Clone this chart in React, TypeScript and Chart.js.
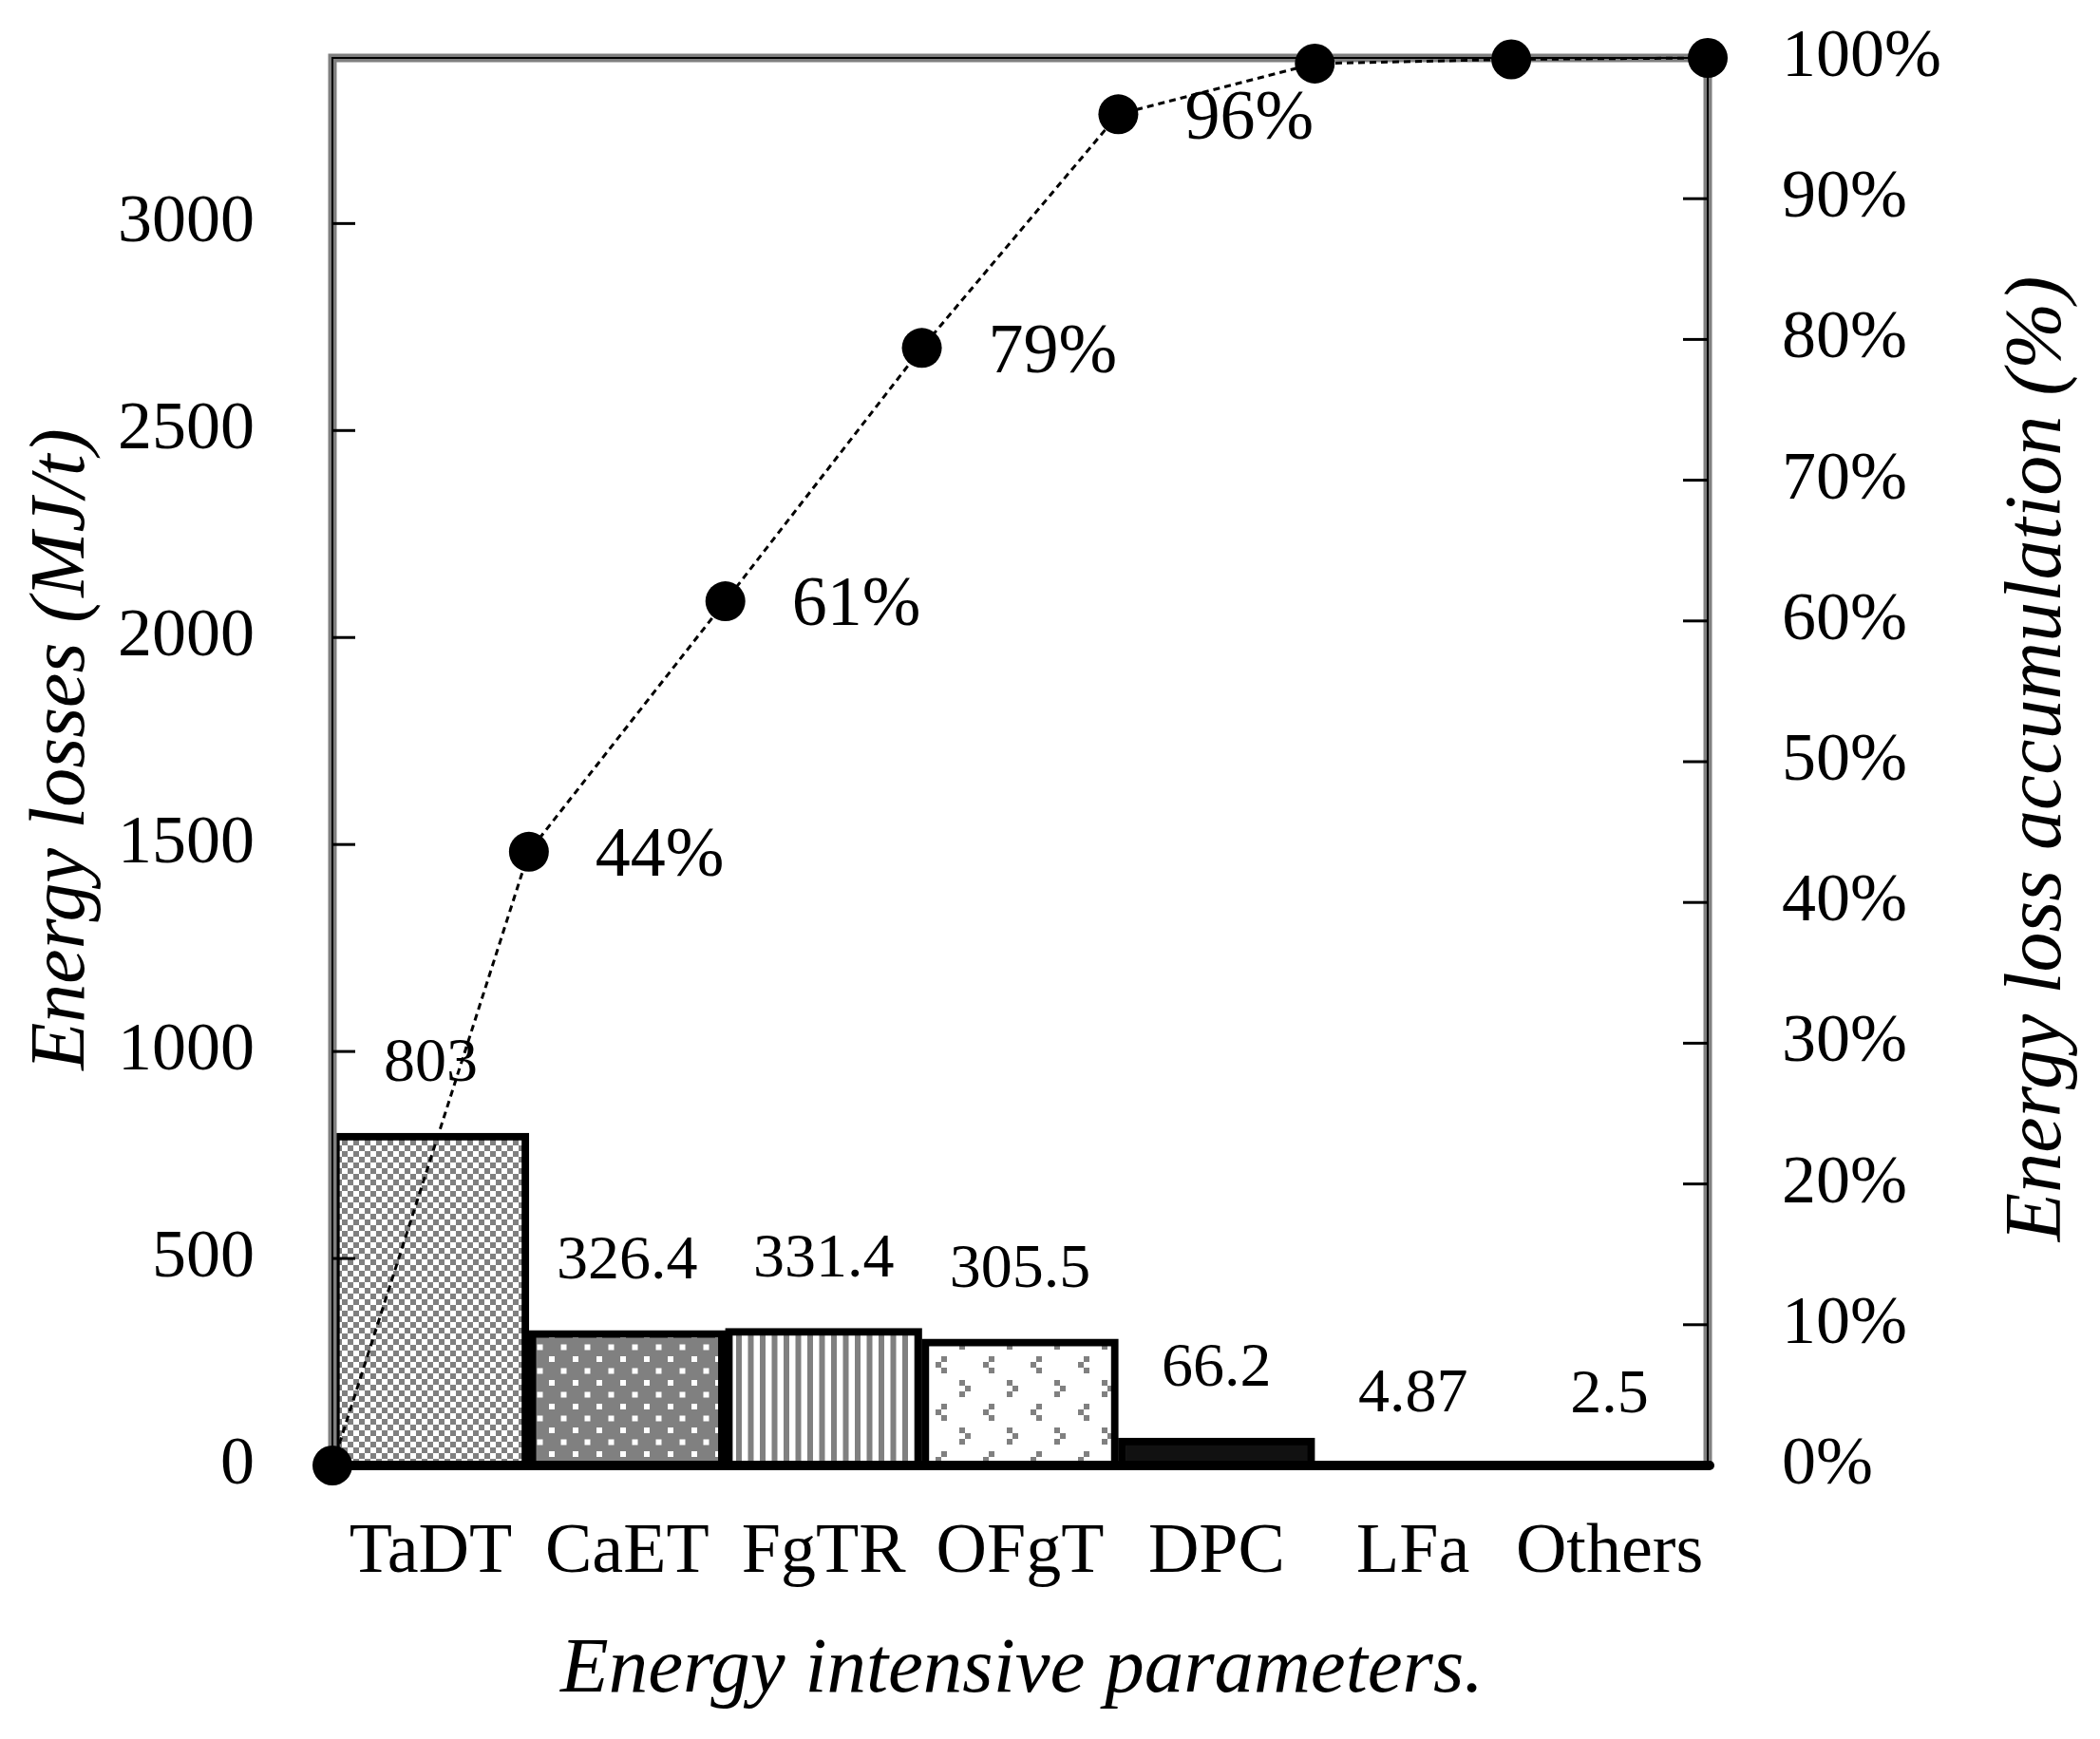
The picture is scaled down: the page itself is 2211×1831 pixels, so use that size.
import React, { useEffect, useRef } from "react";
import { Chart, registerables } from "chart.js";

Chart.register(...registerables);

// ---------- data ----------
const categories = ["TaDT", "CaET", "FgTR", "OFgT", "DPC", "LFa", "Others"];
const energyLosses = [803, 326.4, 331.4, 305.5, 66.2, 4.87, 2.5];
const barValueLabels = ["803", "326.4", "331.4", "305.5", "66.2", "4.87", "2.5"];
const cumulativeBoundaries = [0, 1, 2, 3, 4, 5, 6, 7];
const cumulativePercent = [0, 43.6, 61.4, 79.4, 96.0, 99.6, 99.9, 100];
const cumulativeLabels = ["", "44%", "61%", "79%", "96%", "", "", ""];
const leftTickValues = [0, 500, 1000, 1500, 2000, 2500, 3000];
const rightTickValues = [0, 10, 20, 30, 40, 50, 60, 70, 80, 90, 100];
const leftAxisMax = 3400;
const rightAxisMax = 100;

const xTitle = "Energy intensive parameters.";
const yTitle = "Energy losses (MJ/t)";
const y2Title = "Energy loss accumulation (%)";

// ---------- layout / style ----------
const W = 2211;
const H = 1831;
const PLOT_LEFT = 350;
const PLOT_RIGHT = 1798;
const PLOT_TOP = 61;
const PLOT_BOTTOM = 1543;
const SERIF = '"Liberation Serif", "Times New Roman", Times, serif';
const GRAY = "#808080";

function makeTile(w: number, h: number, draw: (g: CanvasRenderingContext2D) => void) {
  const c = document.createElement("canvas");
  c.width = w;
  c.height = h;
  const g = c.getContext("2d") as CanvasRenderingContext2D;
  draw(g);
  return c;
}

function makeFills(ctx: CanvasRenderingContext2D) {
  const checker = makeTile(12, 12, (g) => {
    g.fillStyle = "#fff";
    g.fillRect(0, 0, 12, 12);
    g.fillStyle = GRAY;
    g.fillRect(0, 0, 6, 6);
    g.fillRect(6, 6, 6, 6);
  });
  const dots = makeTile(25, 25, (g) => {
    g.fillStyle = GRAY;
    g.fillRect(0, 0, 25, 25);
    g.fillStyle = "#fff";
    g.fillRect(3, 3, 6, 6);
    g.fillRect(15.5, 15.5, 6, 6);
  });
  const stripes = makeTile(25, 10, (g) => {
    g.fillStyle = "#fff";
    g.fillRect(0, 0, 25, 10);
    g.fillStyle = GRAY;
    g.fillRect(0, 0, 6, 10);
    g.fillRect(12.5, 0, 6, 10);
  });
  const chevrons = makeTile(50, 50, (g) => {
    g.fillStyle = "#fff";
    g.fillRect(0, 0, 50, 50);
    g.fillStyle = GRAY;
    // ">"
    g.fillRect(10, 3, 6, 6);
    g.fillRect(16, 9, 6, 6);
    g.fillRect(10, 15, 6, 6);
    // "<"
    g.fillRect(41, 28, 6, 6);
    g.fillRect(35, 34, 6, 6);
    g.fillRect(41, 40, 6, 6);
  });
  return [
    ctx.createPattern(checker, "repeat"),
    ctx.createPattern(dots, "repeat"),
    ctx.createPattern(stripes, "repeat"),
    ctx.createPattern(chevrons, "repeat"),
    "#111111",
    "#ffffff",
    "#ffffff",
  ];
}

const paretoPlugin = {
  id: "paretoDecor",
  afterDatasetDraw(chart: any, args: any) {
    if (args.index !== 0) return;
    const { ctx, chartArea: a } = chart;
    ctx.save();
    // plot frame (gray with thin black core)
    ctx.lineCap = "butt";
    ctx.lineJoin = "miter";
    const framePath = () => {
      ctx.beginPath();
      ctx.moveTo(a.left, a.bottom);
      ctx.lineTo(a.left, a.top);
      ctx.lineTo(a.right, a.top);
      ctx.lineTo(a.right, a.bottom);
    };
    ctx.strokeStyle = GRAY;
    ctx.lineWidth = 9;
    framePath();
    ctx.stroke();
    ctx.strokeStyle = "#000";
    ctx.lineWidth = 2;
    framePath();
    ctx.stroke();

    // inward tick marks
    const ys = chart.scales.y;
    const ys2 = chart.scales.y2;
    ctx.lineWidth = 3;
    ctx.strokeStyle = "#000";
    ys.ticks.forEach((t: any) => {
      if (t.value === 0) return;
      const py = ys.getPixelForValue(t.value);
      ctx.beginPath();
      ctx.moveTo(a.left, py);
      ctx.lineTo(a.left + 24, py);
      ctx.stroke();
    });
    ys2.ticks.forEach((t: any) => {
      if (t.value === 0 || t.value === rightAxisMax) return;
      const py = ys2.getPixelForValue(t.value);
      ctx.beginPath();
      ctx.moveTo(a.right, py);
      ctx.lineTo(a.right - 26, py);
      ctx.stroke();
    });

    // thick baseline
    ctx.lineWidth = 10;
    ctx.lineCap = "round";
    ctx.beginPath();
    ctx.moveTo(a.left, a.bottom);
    ctx.lineTo(a.right + 2, a.bottom);
    ctx.stroke();

    // bar value labels
    const meta = chart.getDatasetMeta(0);
    ctx.fillStyle = "#000";
    ctx.font = `66px ${SERIF}`;
    ctx.textAlign = "center";
    ctx.textBaseline = "middle";
    meta.data.forEach((bar: any, i: number) => {
      ctx.fillText(barValueLabels[i], bar.x, bar.y - 72);
    });
    ctx.restore();
  },
  afterDatasetsDraw(chart: any) {
    const { ctx, chartArea: a } = chart;
    ctx.save();
    ctx.fillStyle = "#000";
    // cumulative percentage labels
    const meta = chart.getDatasetMeta(1);
    ctx.font = `74px ${SERIF}`;
    ctx.textAlign = "left";
    ctx.textBaseline = "middle";
    meta.data.forEach((pt: any, i: number) => {
      if (cumulativeLabels[i]) ctx.fillText(cumulativeLabels[i], pt.x + 70, pt.y + 6);
    });

    // axis titles
    ctx.textBaseline = "alphabetic";
    ctx.textAlign = "center";
    ctx.font = `italic 83px ${SERIF}`;
    ctx.fillText(xTitle, (a.left + a.right) / 2 + 2, 1781);

    const midY = (a.top + a.bottom) / 2;
    ctx.font = `italic 82px ${SERIF}`;
    ctx.save();
    ctx.translate(88, midY - 13);
    ctx.rotate(-Math.PI / 2);
    ctx.fillText(yTitle, 0, 0);
    ctx.restore();

    ctx.font = `italic 84px ${SERIF}`;
    ctx.save();
    ctx.translate(2169, midY - 3);
    ctx.rotate(-Math.PI / 2);
    ctx.fillText(y2Title, 0, 0);
    ctx.restore();
    ctx.restore();
  },
};

export default function App() {
  const ref = useRef<HTMLCanvasElement | null>(null);

  useEffect(() => {
    document.body.style.margin = "0";
    const canvas = ref.current;
    if (!canvas) return;
    const ctx = canvas.getContext("2d") as CanvasRenderingContext2D;
    const fills = makeFills(ctx);

    const chart = new Chart(canvas, {
      type: "bar",
      data: {
        labels: categories,
        datasets: [
          {
            type: "bar",
            label: yTitle,
            data: energyLosses,
            backgroundColor: fills as any,
            borderColor: "#000",
            borderWidth: 8,
            barPercentage: 1,
            categoryPercentage: 1,
            grouped: false,
            xAxisID: "x",
            yAxisID: "y",
            order: 2,
          } as any,
          {
            type: "line",
            label: y2Title,
            data: cumulativeBoundaries.map((b, i) => ({ x: b, y: cumulativePercent[i] })),
            xAxisID: "x2",
            yAxisID: "y2",
            borderColor: "#000",
            borderWidth: 3,
            borderDash: [7, 5],
            pointRadius: 21,
            pointHoverRadius: 21,
            pointBackgroundColor: "#000",
            pointBorderColor: "#000",
            pointBorderWidth: 0,
            tension: 0,
            fill: false,
            clip: false,
            order: 1,
          } as any,
        ],
      },
      options: {
        responsive: false,
        animation: false,
        devicePixelRatio: 1,
        events: [],
        layout: { padding: { top: PLOT_TOP, left: 0, right: 0, bottom: 0 }, autoPadding: false },
        plugins: {
          legend: { display: false },
          tooltip: { enabled: false },
          title: { display: false },
        },
        scales: {
          x: {
            type: "category",
            position: "bottom",
            offset: true,
            grid: { display: false, drawTicks: false },
            border: { display: false },
            ticks: {
              color: "#000",
              font: { family: SERIF, size: 74 },
              padding: 48,
              maxRotation: 0,
              minRotation: 0,
              autoSkip: false,
            },
            afterFit: (s: any) => {
              s.height = H - PLOT_BOTTOM;
              s.paddingLeft = 0;
              s.paddingRight = 0;
            },
          },
          x2: {
            type: "linear",
            display: false,
            offset: false,
            grid: { offset: false },
            min: 0,
            max: categories.length,
          },
          y: {
            position: "left",
            min: 0,
            max: leftAxisMax,
            grid: { display: false, drawTicks: false },
            border: { display: false },
            ticks: {
              color: "#000",
              font: { family: SERIF, size: 72 },
              padding: 82,
              callback: (v: any) => String(v),
            },
            afterBuildTicks: (s: any) => {
              s.ticks = leftTickValues.map((v) => ({ value: v }));
            },
            afterFit: (s: any) => {
              s.width = PLOT_LEFT;
              s.paddingTop = 0;
              s.paddingBottom = 0;
            },
          },
          y2: {
            position: "right",
            min: 0,
            max: rightAxisMax,
            grid: { display: false, drawTicks: false },
            border: { display: false },
            ticks: {
              color: "#000",
              font: { family: SERIF, size: 72 },
              padding: 78,
              callback: (v: any) => `${v}%`,
            },
            afterBuildTicks: (s: any) => {
              s.ticks = rightTickValues.map((v) => ({ value: v }));
            },
            afterFit: (s: any) => {
              s.width = W - PLOT_RIGHT;
              s.paddingTop = 0;
              s.paddingBottom = 0;
            },
          },
        },
      } as any,
      plugins: [paretoPlugin as any],
    });

    return () => {
      chart.destroy();
    };
  }, []);

  return (
    <div style={{ width: W, height: H, background: "#fff", position: "relative" }}>
      <canvas ref={ref} width={W} height={H} style={{ display: "block", width: W, height: H }} />
    </div>
  );
}
